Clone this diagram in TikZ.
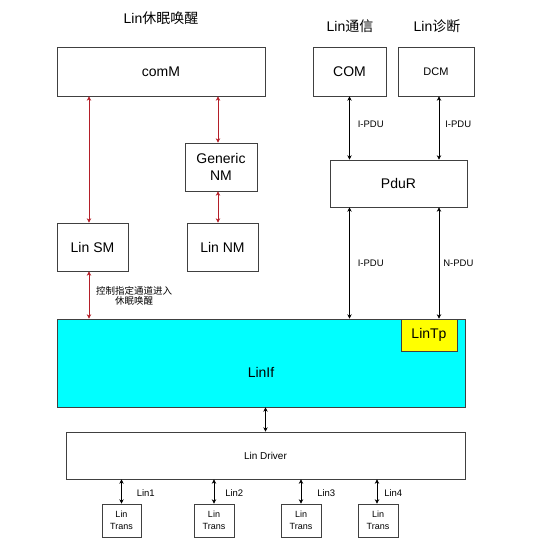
\documentclass[tikz,border=0pt]{standalone}
\usepackage{fontspec}
\setmainfont{Liberation Sans}
\newfontfamily\cjk{Noto Sans CJK SC}
\usetikzlibrary{arrows.meta}
\definecolor{darkred}{RGB}{180,30,40}
\definecolor{lincyan}{RGB}{0,255,255}
\definecolor{linyellow}{RGB}{255,255,0}
\tikzset{
  box/.style={draw=black!75, line width=0.6pt, fill=white, inner sep=0pt, align=center, font=\fontsize{14}{16}\selectfont},
  redarrow/.style={darkred, line width=0.6pt, {Stealth[length=4.5pt,width=4.5pt]}-{Stealth[length=4.5pt,width=4.5pt]}},
  blkarrow/.style={black, line width=0.6pt, {Stealth[length=4.5pt,width=4.5pt]}-{Stealth[length=4.5pt,width=4.5pt]}},
  lbl/.style={font=\fontsize{9.5}{11}\selectfont, inner sep=0pt, anchor=west},
  ttl/.style={font=\fontsize{14}{16}\selectfont}
}
\begin{document}
\begin{tikzpicture}[x=1pt,y=-1pt]
\useasboundingbox (0,0) rectangle (543,545);
% titles
\node[ttl] (t1) at (161,18) {Lin{\cjk 休眠唤醒}};
\node[ttl] (t2) at (350,26) {Lin{\cjk 通信}};
\node[ttl] (t3) at (437,26) {Lin{\cjk 诊断}};
% boxes
\node[box, minimum width=208pt, minimum height=49pt] (comM) at (161,71.5) {comM};
\node[box, minimum width=72pt, minimum height=48pt, font=\fontsize{14}{17}\selectfont] (GNM) at (221,167) {Generic\\NM};
\node[box, minimum width=71pt, minimum height=48pt] (LinSM) at (92.5,247) {Lin SM};
\node[box, minimum width=71pt, minimum height=48pt] (LinNM) at (222.5,247) {Lin NM};
\node[box, minimum width=73pt, minimum height=49pt] (COM) at (349.5,71.5) {COM};
\node[box, minimum width=76pt, minimum height=49pt, font=\fontsize{11}{13}\selectfont] (DCM) at (436,71.5) {DCM};
\node[box, minimum width=137pt, minimum height=47pt] (PduR) at (398.5,183.5) {PduR};
\node[box, fill=lincyan, minimum width=408pt, minimum height=88pt,
      label={[font=\fontsize{14}{16}\selectfont, yshift=-9pt]center:LinIf}] (LinIf) at (261,363) {};
\node[box, fill=linyellow, minimum width=56pt, minimum height=32pt] (LinTp) at (429,335) {LinTp};
\node[box, minimum width=399pt, minimum height=47pt, font=\fontsize{10}{12}\selectfont] (LinDrv) at (265.5,455.5) {Lin Driver};
\tikzset{trans/.style={box, minimum height=33pt, font=\fontsize{9}{11.5}\selectfont}}
\node[trans, minimum width=39pt] (T1) at (121.5,520.5) {Lin\\Trans};
\node[trans, minimum width=40pt] (T2) at (214,520.5) {Lin\\Trans};
\node[trans, minimum width=40pt] (T3) at (301,520.5) {Lin\\Trans};
\node[trans, minimum width=40pt] (T4) at (378,520.5) {Lin\\Trans};
% red connectors
\draw[redarrow] ([xshift=-3.5pt]LinSM.north) -- ([xshift=-3.5pt]LinSM.north |- comM.south);
\draw[redarrow] ([xshift=-3pt]GNM.north) -- ([xshift=-3pt]GNM.north |- comM.south);
\draw[redarrow] ([xshift=-3pt]GNM.south) -- ([xshift=-3pt]GNM.south |- LinNM.north);
\draw[redarrow] ([xshift=-3.5pt]LinSM.south) -- ([xshift=-3.5pt]LinSM.south |- LinIf.north);
\node[align=center, inner sep=0pt, font=\cjk\fontsize{9.5}{10.5}\selectfont] (ctl) at (134,296) {控制指定通道进入\\休眠唤醒};
% black connectors
\draw[blkarrow] (COM.south) -- (COM.south |- PduR.north) node[midway, xshift=8pt, yshift=4pt, lbl] (l1) {I-PDU};
\draw[blkarrow] ([xshift=3pt]DCM.south) -- ([xshift=3pt]DCM.south |- PduR.north) node[midway, xshift=6pt, yshift=4pt, lbl] (l2) {I-PDU};
\draw[blkarrow] (COM.south |- PduR.south) -- (COM.south |- LinIf.north) node[midway, xshift=8pt, lbl] (l3) {I-PDU};
\draw[blkarrow] ([xshift=10pt]LinTp.north |- PduR.south) -- ([xshift=10pt]LinTp.north) node[midway, xshift=4pt, lbl] (l4) {N-PDU};
\draw[blkarrow] ([xshift=4.5pt]LinIf.south) -- ([xshift=4.5pt]LinIf.south |- LinDrv.north);
\draw[blkarrow] (T1.north |- LinDrv.south) -- (T1.north) node[midway, xshift=15pt, yshift=-2pt, lbl] (m1) {Lin1};
\draw[blkarrow] (T2.north |- LinDrv.south) -- (T2.north) node[midway, xshift=11pt, yshift=-2pt, lbl] (m2) {Lin2};
\draw[blkarrow] (T3.north |- LinDrv.south) -- (T3.north) node[midway, xshift=16pt, yshift=-2pt, lbl] (m3) {Lin3};
\draw[blkarrow] ([xshift=-1pt]T4.north |- LinDrv.south) -- ([xshift=-1pt]T4.north) node[midway, xshift=7pt, yshift=-2pt, lbl] (m4) {Lin4};
\end{tikzpicture}
\end{document}
